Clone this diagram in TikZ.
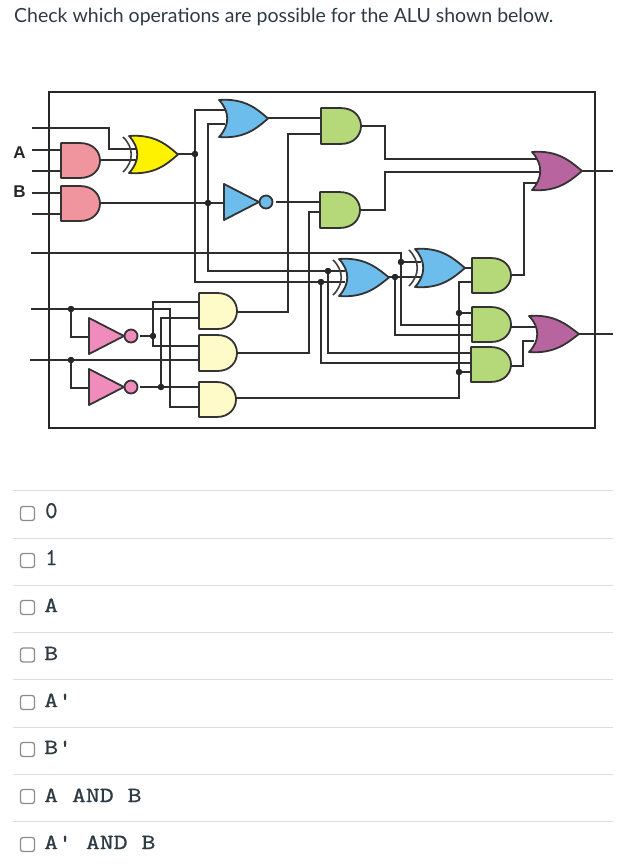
\documentclass[tikz,border=0pt]{standalone}
\usepackage{fontspec}
\setmainfont{Lato}
\newfontfamily\labfont{Liberation Sans}
\newfontfamily\optfont[FakeStretch=1.25,FakeBold=1]{Latin Modern Mono}
\newfontfamily\digfont[FakeBold=0.8]{Latin Modern Mono}
\definecolor{ink}{HTML}{2D3B45}
\definecolor{wirec}{HTML}{2E2E2E}
\definecolor{rule}{HTML}{DDDDDD}
\definecolor{pinkand}{HTML}{F0949E}
\definecolor{yel}{HTML}{FFF200}
\definecolor{sky}{HTML}{6CBCEC}
\definecolor{grn}{HTML}{B5D978}
\definecolor{cream}{HTML}{FFFBC8}
\definecolor{rose}{HTML}{F08CBC}
\definecolor{plum}{HTML}{B8659F}
\tikzset{
  wire/.style={draw=wirec,line width=1.6pt,line join=miter},
  gateline/.style={draw=black!80,line width=1.8pt,line join=round},
  gatebox/.style={inner sep=0pt,outer sep=0pt},
  junction/.style={circle,fill=black!85,inner sep=0pt,minimum size=6pt},
  frameline/.style={draw=black!85,line width=2pt},
  optline/.style={draw=rule,line width=1pt},
  optbox/.style={draw=gray!90,fill=white,line width=1.3pt,rounded corners=2.5pt,minimum size=14pt,inner sep=0pt},
  opttext/.style={anchor=base west,inner sep=0pt,text=ink,font=\optfont\fontsize{21.6}{21.6}\selectfont},
  digtext/.style={anchor=base west,inner sep=0pt,text=ink,font=\digfont\fontsize{24}{24}\selectfont},
  sidelabel/.style={inner sep=0pt,text=black!85,font=\labfont\bfseries\fontsize{17}{17}\selectfont},
  titletext/.style={anchor=base west,inner sep=0pt,text=ink,font=\fontsize{19.5}{21}\selectfont}
}
% name, x0, x1, y0, y1, colour
\newcommand\andg[6]{%
  \pgfmathsetmacro\gcx{(#2+#3)/2}\pgfmathsetmacro\gcy{(#4+#5)/2}%
  \pgfmathsetmacro\gm{#2+0.48*(#3-#2)}\pgfmathsetmacro\gk{#3-0.01}%
  \pgfmathsetmacro\gu{#4+0.27*(#5-#4)}\pgfmathsetmacro\gl{#5-0.27*(#5-#4)}%
  \node[gatebox,minimum width={(#3-#2)*1pt},minimum height={(#5-#4)*1pt}] (#1) at (\gcx,\gcy) {};
  \draw[gateline,fill=#6] (#2,#4) -- (\gm,#4) .. controls (\gk-6,#4) and (#3,\gu) .. (#3,\gcy)
    .. controls (#3,\gl) and (\gk-6,#5) .. (\gm,#5) -- (#2,#5) -- cycle;
}
\newcommand\org[6]{%
  \pgfmathsetmacro\gcx{(#2+#3)/2}\pgfmathsetmacro\gcy{(#4+#5)/2}%
  \node[gatebox,minimum width={(#3-#2)*1pt},minimum height={(#5-#4)*1pt}] (#1) at (\gcx,\gcy) {};
  \draw[gateline,fill=#6] (#2,#4) .. controls (#2+26,#4-2) and (#2+38,#4+9) .. (#3,\gcy)
    .. controls (#2+38,#5-9) and (#2+26,#5+2) .. (#2,#5)
    .. controls (#2+11,\gcy+7) and (#2+11,\gcy-7) .. (#2,#4) -- cycle;
}
% same, with the second curve of the XOR in front of it
\newcommand\xorg[6]{%
  \org{#1}{#2}{#3}{#4}{#5}{#6}
  \pgfmathsetmacro\gcy{(#4+#5)/2}%
  \draw[draw=black!75,line width=1.6pt] (#2-6,#4+1) .. controls (#2+5,\gcy-7) and (#2+5,\gcy+7) .. (#2-6,#5-1);
}
% name, x0, x1, ymid, half height, colour
\newcommand\invg[6]{%
  \pgfmathsetmacro\gcx{(#2+#3+14)/2}%
  \node[gatebox,minimum width={(#3+14-#2)*1pt},minimum height={2*#5*1pt}] (#1) at (\gcx,#4) {};
  \draw[gateline,fill=#6] (#2,#4-#5) -- (#3,#4) -- (#2,#4+#5) -- cycle;
  \draw[gateline,fill=#6] (#3+7,#4) circle[radius=6.5];
}
\begin{document}
\begin{tikzpicture}[x=1pt,y=-1pt]
\useasboundingbox (0,0) rectangle (633,868);
\fill[white] (0,0) rectangle (633,868);
\node[titletext] (title) at (14,22) {Check which operations are possible for the ALU shown below.};
\node[gatebox,minimum width=546pt,minimum height=336pt,frameline,draw] (frame) at (322,260) {};
\node[sidelabel] (labA) at (19.5,153) {A};
\node[sidelabel] (labB) at (19.5,192) {B};
% free ends
\coordinate (inT) at (32,128); \coordinate (inA) at (32,150); \coordinate (inA2) at (32,171);
\coordinate (inB) at (32,193); \coordinate (inB2) at (32,214); \coordinate (inC) at (31,253);
\coordinate (inD) at (31,309); \coordinate (inE) at (30,360);
\coordinate (outA) at (613,171); \coordinate (outB) at (613,334);
% gate pins
\coordinate (pa1a) at (62,150); \coordinate (pa1b) at (62,171); \coordinate (pa2a) at (62,193); \coordinate (pa2b) at (62,214);
\coordinate (pxa1) at (136,149); \coordinate (pxa2) at (136,160);
\coordinate (porA1) at (225,110); \coordinate (porA2) at (225,124);
\coordinate (pg1a) at (322,118); \coordinate (pg1b) at (322,134);
\coordinate (pg2a) at (321,202); \coordinate (pg2b) at (321,212);
\coordinate (ppu1) at (537,159); \coordinate (ppu2) at (540,172); \coordinate (ppu3) at (537,183);
\coordinate (pxb1) at (345,271); \coordinate (pxb2) at (345,282);
\coordinate (pxc1) at (421,262); \coordinate (pxc2) at (421,277);
\coordinate (pg3a) at (473,268); \coordinate (pg3b) at (473,282);
\coordinate (pg4a) at (473,313); \coordinate (pg4b) at (473,325); \coordinate (pg4c) at (473,335);
\coordinate (pg5a) at (472,353); \coordinate (pg5b) at (472,363); \coordinate (pg5c) at (472,372);
\coordinate (pv1) at (535,327); \coordinate (pv2) at (534,341);
\coordinate (py1a) at (200,302); \coordinate (py1b) at (200,318);
\coordinate (py2a) at (200,346); \coordinate (py2b) at (200,360);
\coordinate (py3a) at (200,387); \coordinate (py3b) at (200,407);
\coordinate (g4o) at (511,327); \coordinate (g5o) at (511,366); \coordinate (g3o) at (511,275);
\coordinate (y1o) at (237,312); \coordinate (y2o) at (237,353); \coordinate (y3o) at (236,398);
% junctions
\node[junction] (j1) at (195,154) {};
\node[junction] (j2) at (208,203) {};
\node[junction] (j5) at (321,282) {};
\node[junction] (j6) at (328,271) {};
\node[junction] (j7) at (401,262) {};
\node[junction] (j8) at (395,277) {};
\node[junction] (j3) at (459,313) {};
\node[junction] (j4) at (459,372) {};
\node[junction] (j9) at (71,309) {};
\node[junction] (j10) at (153,336) {};
\node[junction] (j11) at (71,360) {};
\node[junction] (j12) at (161,387) {};
% wires
\draw[wire] (inT) -- (109,128) -- (109,149) -- (pxa1);
\draw[wire] (inA) -- (pa1a); \draw[wire] (inA2) -- (pa1b);
\draw[wire] (inB) -- (pa2a); \draw[wire] (inB2) -- (pa2b);
\draw[wire] (100,160) -- (pxa2);
\draw[wire] (178,154) -- (j1);
\draw[wire] (porA1) -| (j1);
\draw[wire] (j1) -- (195,282) -- (j5);
\draw[wire] (j5) -- (pxb2);
\draw[wire] (100,203) -- (j2) -- (230,203);
\draw[wire] (porA2) -| (j2);
\draw[wire] (j2) -- (208,271) -- (j6);
\draw[wire] (j6) -- (pxb1);
\draw[wire] (268,118) -- (pg1a);
\draw[wire] (276,202) -- (pg2a);
\draw[wire] (361,126) -- (385,126) -- (385,159) -- (ppu1);
\draw[wire] (360,210) -- (385,210) -- (385,172) -- (ppu2);
\draw[wire] (g3o) -- (524,275) -- (524,183) -- (ppu3);
\draw[wire] (y1o) -- (288,312) -- (288,134) -- (pg1b);
\draw[wire] (y2o) -- (309,353) -- (309,212) -- (pg2b);
\draw[wire] (y3o) -- (459,398) -- (459,282) -- (pg3b);
\draw[wire] (j3) -- (pg4a); \draw[wire] (j4) -- (pg5c);
\draw[wire] (inC) -- (401,253) -- (j7) -- (401,325) -- (pg4b);
\draw[wire] (j7) -- (pxc1);
\draw[wire] (389,277) -- (j8) -- (pxc2);
\draw[wire] (j8) -- (395,335) -- (pg4c);
\draw[wire] (j6) -- (328,353) -- (pg5a);
\draw[wire] (j5) -- (321,363) -- (pg5b);
\draw[wire] (465,268) -- (pg3a);
\draw[wire] (g4o) -- (pv1);
\draw[wire] (g5o) -- (523,366) -- (523,341) -- (pv2);
\draw[wire] (582,171) -- (outA);
\draw[wire] (579,334) -- (outB);
\draw[wire] (inD) -- (j9) -- (170,309) -- (170,407) -- (py3b);
\draw[wire] (j9) -- (71,337) -- (95,337);
\draw[wire] (140,336) -- (j10);
\draw[wire] (py1a) -| (j10); \draw[wire] (py2a) -| (j10);
\draw[wire] (inE) -- (j11) -- (py2b);
\draw[wire] (j11) -- (71,388) -- (95,388);
\draw[wire] (140,387) -- (j12) -- (py3a);
\draw[wire] (py1b) -| (j12);
% gates
\andg{ap1}{61}{100}{143}{178}{pinkand}
\andg{ap2}{61}{100}{186}{221}{pinkand}
\xorg{xa}{129}{178}{136}{173}{yel}
\org{ora}{219}{268}{100}{137}{sky}
\invg{iva}{224}{259}{202}{18}{sky}
\andg{g1}{321}{361}{108}{144}{grn}
\andg{g2}{320}{360}{192}{228}{grn}
\org{pu}{532}{582}{152}{190}{plum}
\xorg{xb}{339}{389}{259}{296}{sky}
\xorg{xc}{415}{465}{249}{287}{sky}
\andg{g3}{472}{511}{258}{293}{grn}
\andg{g4}{472}{511}{307}{342}{grn}
\andg{g5}{471}{511}{347}{382}{grn}
\org{pv}{529}{579}{316}{352}{plum}
\andg{y1}{199}{237}{293}{329}{cream}
\andg{y2}{199}{237}{335}{371}{cream}
\andg{y3}{199}{236}{382}{417}{cream}
\invg{ivb}{89}{124}{336}{18}{rose}
\invg{ivc}{89}{124}{387}{18}{rose}
\foreach \n in {j1,j2,j5,j6,j7,j8,j3,j4,j9,j10,j11,j12} {\fill[black!85] (\n) circle[radius=3.2];}
% options
\foreach \y in {490,538,585,632,679,727,774.5,821.5} {\draw[optline] (13,\y) -- (613,\y);}
\node[optbox] (b0) at (27.5,513.5) {};
\node[optbox] (b1) at (27.5,560.5) {};
\node[optbox] (b2) at (27.5,607.5) {};
\node[optbox] (b3) at (27.5,655) {};
\node[optbox] (b4) at (27.5,702.5) {};
\node[optbox] (b5) at (27.5,749.5) {};
\node[optbox] (b6) at (27.5,796.5) {};
\node[optbox] (b7) at (27.5,844.5) {};
\node[digtext] (t0) at (45,518) {0};
\node[digtext] (t1) at (45,565) {1};
\node[opttext] (t2) at (44,612) {A};
\node[opttext] (t3) at (44,660) {B};
\node[opttext] (t4) at (44,707) {A'};
\node[opttext] (t5) at (44,754) {B'};
\node[opttext] (t6) at (44,802) {A AND B};
\node[opttext] (t7) at (44,849) {A' AND B};
\end{tikzpicture}
\end{document}
